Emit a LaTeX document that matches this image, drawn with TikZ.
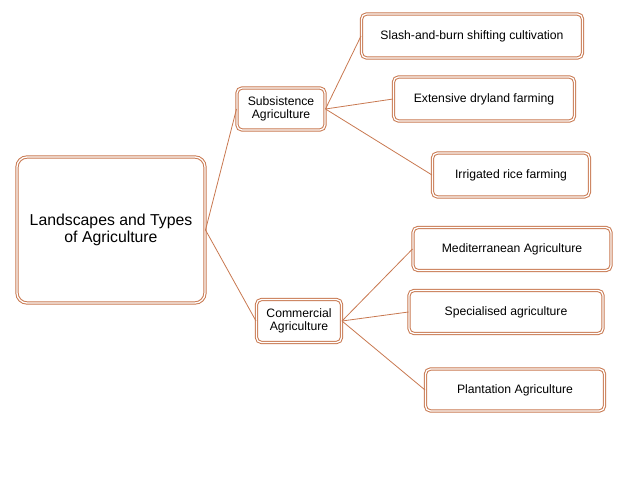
\documentclass[tikz,border=0pt]{standalone}
\usepackage{fontspec}
\setmainfont{Liberation Sans}
\definecolor{brd}{RGB}{200,120,80}
\begin{document}
\begin{tikzpicture}[x=1pt,y=-1pt,
 box/.style={draw=brd,double=white,double distance=1.3pt,line width=1pt,rounded corners=5pt,fill=white,align=center,inner sep=0pt,font=\fontsize{12.2}{13}\selectfont},
 link/.style={brd,line width=0.8pt}]
\useasboundingbox (0,0) rectangle (638,478);
\node[box,minimum width=188,minimum height=146,rounded corners=10pt,font=\fontsize{15.8}{17}\selectfont] (root) at (111,230) {Landscapes and Types\\of Agriculture};
\node[box,minimum width=88,minimum height=42] (sub) at (281,109) {Subsistence\\Agriculture};
\node[box,minimum width=85,minimum height=43] (com) at (299,321) {Commercial\\Agriculture};
\node[box,minimum width=221,minimum height=44] (a) at (472,36) {Slash-and-burn shifting cultivation};
\node[box,minimum width=181,minimum height=44] (b) at (484,99) {Extensive dryland farming};
\node[box,minimum width=157,minimum height=44] (c) at (511,175) {Irrigated rice farming};
\node[box,minimum width=198,minimum height=43] (d) at (512,249) {Mediterranean Agriculture};
\node[box,minimum width=194,minimum height=43] (e) at (506,312) {Specialised agriculture};
\node[box,minimum width=179,minimum height=42] (f) at (515,390) {Plantation Agriculture};
\draw[link] (root.east) -- (sub.west);
\draw[link] (root.east) -- (com.west);
\foreach \t in {a,b,c} \draw[link] (sub.east) -- (\t.west);
\foreach \t in {d,e,f} \draw[link] (com.east) -- (\t.west);
\end{tikzpicture}
\end{document}
